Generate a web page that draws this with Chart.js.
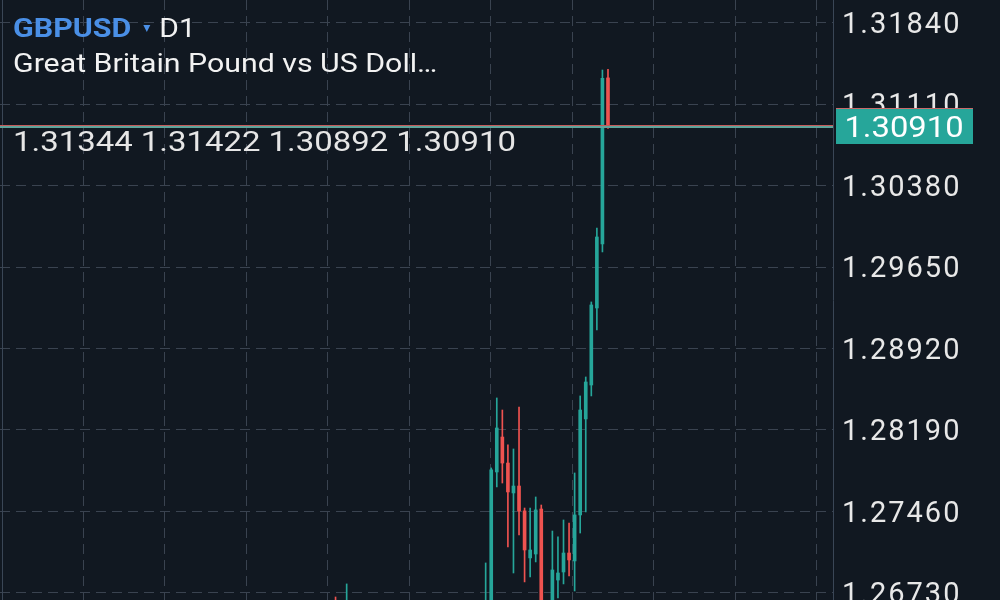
<!DOCTYPE html>
<html><head><meta charset="utf-8">
<script src="https://cdn.jsdelivr.net/npm/chart.js@4/dist/chart.umd.min.js"></script>
<style>html,body{margin:0;padding:0;background:#111821;overflow:hidden}#wrap{width:1000px;height:600px;position:relative}</style>
</head><body><div id="wrap"><canvas id="c"></canvas></div>
<script>
const symbol = 'GBPUSD';
const timeframe = 'D1';
const description = 'Great Britain Pound vs US Doll…';

// Daily candles (oldest -> newest); null = candle entirely below the visible window
const opens = [1.2665, null, 1.2650,
  null, null, null, null, null, null, null, null, null, null, null, null,
  null, null, null, null, null, null, null, null, null, null, null, null,
  1.2652, 1.2658, 1.27814, 1.28127, 1.27894, 1.27626, 1.27688, 1.27465, 1.27044, 1.27079, 1.27482,
  null, 1.26596, 1.26846, 1.26918, 1.27088, 1.27017, 1.27429, 1.28289, 1.28593, 1.29283, 1.29856, 1.31344];
const highs = [1.26694, null, 1.26811,
  null, null, null, null, null, null, null, null, null, null, null, null,
  null, null, null, null, null, null, null, null, null, null, null, null,
  1.26999, 1.27850, 1.28477, 1.28369, 1.28056, 1.28020, 1.28396, 1.27491, 1.27491, 1.27590, 1.27518,
  null, 1.27285, 1.27232, 1.27384, 1.27357, 1.27805, 1.28495, 1.28665, 1.29337, 1.29999, 1.31415, 1.31422];
const lows = [1.2655, null, 1.2645,
  null, null, null, null, null, null, null, null, null, null, null, null,
  null, null, null, null, null, null, null, null, null, null, null, null,
  1.2648, 1.2655, 1.27680, 1.27715, 1.27142, 1.26909, 1.27250, 1.26829, 1.26873, 1.27008, 1.26560,
  null, 1.26533, 1.26685, 1.26811, 1.26882, 1.26748, 1.27267, 1.27456, 1.28495, 1.29086, 1.29785, 1.30892];
const closes = [1.2660, null, 1.2662,
  null, null, null, null, null, null, null, null, null, null, null, null,
  null, null, null, null, null, null, null, null, null, null, null, null,
  1.2663, 1.27832, 1.28208, 1.27894, 1.27635, 1.27688, 1.27465, 1.27115, 1.27115, 1.27474, 1.26614,
  null, 1.26936, 1.26909, 1.27088, 1.27026, 1.27429, 1.28369, 1.28620, 1.29310, 1.29919, 1.31340, 1.30910];

const yTickValues = [1.26730, 1.27460, 1.28190, 1.28920, 1.29650, 1.30380, 1.31110, 1.31840];
const yMin = 1.26667, yMax = 1.32042;
const xMin = -60.35, xMax = 89.47;
const xGridValues = [-45.42, -30.76, -16.10, -1.44, 13.22, 27.88, 42.54, 57.20, 71.86, 86.52];

const UP = '#26a69a', DOWN = '#ef5350';
const BG = '#111821', GRID = '#3a4350';

const wickData = [], bodyData = [], colors = [];
opens.forEach((o, i) => {
  if (o === null) return;
  wickData.push({x: i, y: [lows[i], highs[i]]});
  bodyData.push({x: i, y: [o, closes[i]]});
  colors.push(closes[i] >= o ? UP : DOWN);
});

function txt(ctx, s, x, y, font, color, sx, align) {
  ctx.save();
  ctx.font = font;
  ctx.fillStyle = color;
  ctx.textBaseline = 'alphabetic';
  const w = ctx.measureText(s).width * sx;
  let x0 = x;
  if (align === 'center') x0 = x - w / 2;
  ctx.translate(x0, y);
  ctx.scale(sx, 1);
  ctx.fillText(s, 0, 0);
  ctx.restore();
  return w;
}

const deco = {
  id: 'deco',
  beforeDraw(chart) {
    const c = chart.ctx;
    c.save(); c.fillStyle = BG; c.fillRect(0, 0, chart.width, chart.height); c.restore();
    c.letterSpacing = '2px';
  },
  afterDraw(chart) {
    const {ctx, chartArea, scales: {y}} = chart;
    ctx.letterSpacing = '0px';
    ctx.save();
    // left border
    ctx.fillStyle = '#3a4656';
    ctx.fillRect(2, 0, 1, chart.height);
    // price line
    const last = closes[closes.length - 1];
    const py = Math.round(y.getPixelForValue(last));
    ctx.fillStyle = '#c45a5a';
    ctx.fillRect(0, py - 1, chartArea.right, 1);
    ctx.fillStyle = '#5fa39b';
    ctx.fillRect(0, py, chartArea.right, 2);
    // price box
    const bx = chartArea.right + 3;
    ctx.fillStyle = UP;
    ctx.fillRect(bx, py - 18, 137, 36);
    ctx.fillStyle = '#c86a6a';
    ctx.fillRect(bx, py - 18, 137, 1);
    ctx.restore();
    txt(ctx, last.toFixed(5), bx + 68, py + 11, '29px Roboto', '#ffffff', 1.13, 'center');
    // header
    const w1 = txt(ctx, symbol, 13, 37, 'bold 26px Roboto', '#4a8fe6', 1.17);
    ctx.save();
    ctx.fillStyle = '#4a8fe6';
    const tx = 13 + w1 + 12;
    ctx.beginPath(); ctx.moveTo(tx, 25); ctx.lineTo(tx + 7, 25); ctx.lineTo(tx + 3.5, 32); ctx.closePath(); ctx.fill();
    ctx.restore();
    txt(ctx, timeframe, tx + 16, 37, '26px Roboto', '#f2f2f2', 1.15);
    txt(ctx, description, 13, 72, '26px Roboto', '#f2f2f2', 1.165);
    const ohlc = [opens, highs, lows, closes].map(a => a[a.length - 1].toFixed(5)).join(' ');
    txt(ctx, ohlc, 13, 151, '28px Roboto', '#e6e6e6', 1.175);
  }
};

new Chart(document.getElementById('c'), {
  type: 'bar',
  data: {
    datasets: [
      {data: wickData, backgroundColor: colors, barThickness: 1, borderWidth: 0, grouped: false, order: 2},
      {data: bodyData, backgroundColor: colors, barThickness: 3, borderWidth: 0, grouped: false, order: 1}
    ]
  },
  plugins: [deco],
  options: {
    responsive: true, maintainAspectRatio: false, animation: false,
    layout: {padding: 0, autoPadding: false},
    plugins: {legend: {display: false}, tooltip: {enabled: false}},
    scales: {
      x: {
        type: 'linear', min: xMin, max: xMax, offset: false,
        grid: {color: GRID, lineWidth: 1, drawTicks: false, offset: false},
        border: {display: false, dash: [10, 6]},
        ticks: {display: false},
        afterBuildTicks: s => { s.ticks = xGridValues.map(v => ({value: v})); },
        afterFit: s => { s.height = 0; s.paddingLeft = 0; s.paddingRight = 0; }
      },
      y: {
        position: 'right', min: yMin, max: yMax,
        grid: {color: GRID, lineWidth: 1, drawTicks: false},
        border: {display: true, color: '#3a4656', dash: [10, 6]},
        ticks: {color: '#e8e8e8', font: {family: 'Roboto', size: 29}, padding: 9, labelOffset: 3,
          callback: v => v.toFixed(5)},
        afterBuildTicks: s => { s.ticks = yTickValues.map(v => ({value: v})); },
        afterFit: s => { s.width = 167; s.paddingTop = 0; s.paddingBottom = 0; }
      }
    }
  }
});
</script></body></html>
